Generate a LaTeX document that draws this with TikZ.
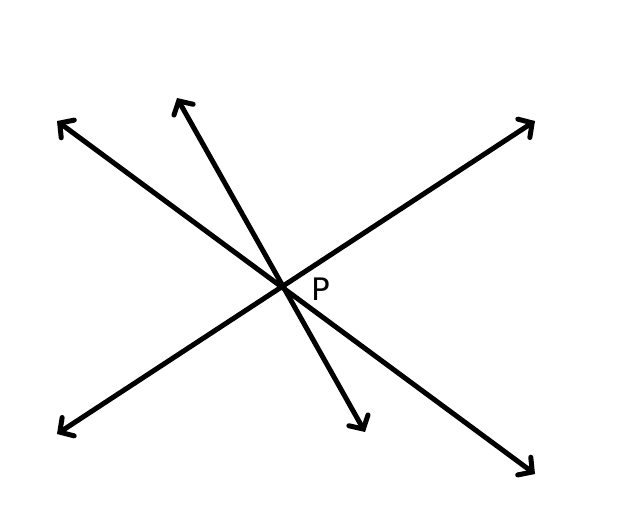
\documentclass[tikz,border=0pt]{standalone}
\usepackage{fontspec}
\setmainfont{DejaVu Sans}
\usetikzlibrary{arrows.meta}
\begin{document}
\begin{tikzpicture}[x=1pt,y=-1pt,
  ln/.style={line width=5pt,line cap=round,
    {Straight Barb[length=10pt,width=22pt,line width=5pt,line cap=round]}-{Straight Barb[length=10pt,width=22pt,line width=5pt,line cap=round]}}]
\useasboundingbox (0,0) rectangle (627,523);
\coordinate (P) at (283,286);
\coordinate (a1) at (57,121);
\coordinate (a2) at (535,474);
\coordinate (b1) at (177,98);
\coordinate (b2) at (365,432);
\coordinate (c1) at (57,434);
\coordinate (c2) at (535,121);
\draw[ln] (a1) -- (a2);
\draw[ln] (b1) -- (b2);
\draw[ln] (c1) -- (c2);
\node[font=\fontsize{31}{36}\selectfont,anchor=center] (lab) at (321,289) {P};
\end{tikzpicture}
\end{document}
